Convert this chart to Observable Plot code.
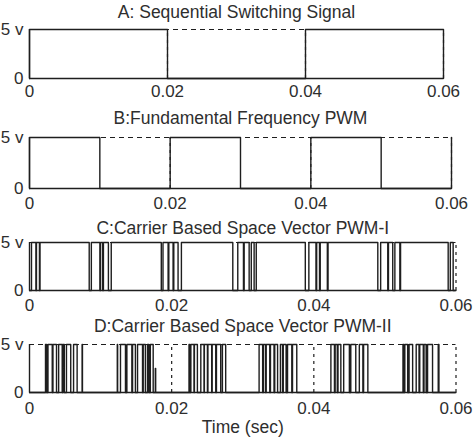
<!DOCTYPE html>
<html><head><meta charset="utf-8">
<script src="https://cdn.jsdelivr.net/npm/d3@7"></script>
<script src="https://cdn.jsdelivr.net/npm/@observablehq/plot@0.6"></script>
<style>
body{margin:0;background:#fff;}
#wrap{position:relative;width:474px;height:441px;overflow:hidden;background:#fff;}
#wrap svg{position:absolute;left:0;}
</style></head><body><div id="wrap"></div>
<script>
// ---- text / ticks ----
const xTicks = [0, 0.02, 0.04, 0.06];
const yTicks = [0, 5];
const yTickLabels = ["0", "5 v"];
const titles = [
  "A: Sequential Switching Signal",
  "B:Fundamental Frequency PWM",
  "C:Carrier Based Space Vector PWM-I",
  "D:Carrier Based Space Vector PWM-II"
];
const xLabel = "Time (sec)";

// ---- A: sequential switching (high intervals, s) ----
const aHighStart = [0, 0.04];
const aHighEnd   = [0.02, 0.06];

// ---- B: fundamental frequency PWM ----
const bHighStart = [0, 0.02, 0.04, 0.06];
const bHighEnd   = [0.01, 0.03, 0.05, 0.06];

// ---- C: carrier based SVPWM-I (signal high, low notches) ----
const cLowStart = [0, 0.0009, 0.0014, 0.0084, 0.0099, 0.0103, 0.0111, 0.01854, 0.0195, 0.0202, 0.0209,
  0.0286, 0.0301, 0.0309, 0.0316, 0.0388, 0.0403, 0.0408, 0.0419, 0.0490, 0.0504, 0.0511, 0.0521, 0.0589, 0.0596];
const cLowEnd   = [0.00028, 0.00098, 0.00148, 0.0087, 0.0100, 0.0104, 0.0115, 0.01878, 0.0196, 0.0203, 0.02137,
  0.0293, 0.0302, 0.0312, 0.0319, 0.0393, 0.0404, 0.0409, 0.0420, 0.0494, 0.0505, 0.0514, 0.0522, 0.0592, 0.06];

// ---- D: carrier based SVPWM-II (high pulses) ----
const dHighStart = [
  0.00225, 0.0026, 0.0033, 0.0041, 0.0047, 0.0052, 0.0062, 0.0074,
  0.01235, 0.0128, 0.0137, 0.0145, 0.0152, 0.0160, 0.0166, 0.0170, 0.0177,
  0.02244, 0.0227, 0.0232, 0.0241, 0.0246, 0.0251, 0.0257, 0.0263, 0.02714,
  0.0323, 0.0329, 0.0333, 0.0339, 0.0345, 0.0353, 0.0357, 0.0363, 0.0370,
  0.0424, 0.0430, 0.0434, 0.0442, 0.0452, 0.0464, 0.0470,
  0.05254, 0.0528, 0.0534, 0.0544, 0.0549, 0.0555, 0.0560, 0.0575];
const dHighEnd = [
  0.0024, 0.0032, 0.0038, 0.0046, 0.0049, 0.0058, 0.0067, 0.00745,
  0.0124, 0.0135, 0.0144, 0.0149, 0.0159, 0.0163, 0.0168, 0.0174, 0.01775,
  0.02255, 0.02314, 0.02362, 0.02455, 0.02503, 0.02563, 0.0262, 0.0269, 0.0276,
  0.0328, 0.0332, 0.0338, 0.0344, 0.0349, 0.0356, 0.0361, 0.0369, 0.0376,
  0.0429, 0.0433, 0.0438, 0.0450, 0.0459, 0.0469, 0.0476,
  0.05265, 0.0532, 0.0539, 0.0548, 0.0554, 0.0558, 0.0567, 0.0576];
const dHighLevel = [
  5, 5, 5, 5, 5, 5, 5, 5,
  5, 5, 5, 5, 5, 5, 5, 5, 2.5,
  5, 5, 5, 5, 5, 5, 5, 5, 5,
  5, 5, 5, 5, 5, 5, 5, 5, 5,
  5, 5, 5, 5, 5, 5, 5,
  5, 5, 5, 5, 5, 5, 5, 5];

// ---- build waveforms ----
function wave(starts, ends, levels) {
  const pts = [{t: 0, v: 0}];
  starts.forEach((s, i) => {
    const lv = levels ? levels[i] : 5;
    pts.push({t: s, v: 0}, {t: s, v: lv}, {t: ends[i], v: lv}, {t: ends[i], v: 0});
  });
  pts.push({t: 0.06, v: 0});
  return pts;
}
const cStarts = [], cEnds = [];
[0, ...cLowEnd].forEach((s, i) => {
  const e = i < cLowStart.length ? cLowStart[i] : 0.06;
  if (e > s) { cStarts.push(s); cEnds.push(e); }
});

const FONT = '"Liberation Sans", Arial, Helvetica, sans-serif';
const INK = "#1e1e1e";
const TXT = "#2e2e2e";

function panel({top, height, mt, mb, mr, title, pts, titleDy, tickPad, grid, xlabel}) {
  const marks = [
    Plot.ruleY([5], {stroke: INK, strokeWidth: 1.2, strokeDasharray: "5,4"}),
    Plot.ruleX(grid, {y1: 0, y2: 5, stroke: INK, strokeWidth: 1.2, strokeDasharray: "3,4"}),
    Plot.ruleY([0], {stroke: INK, strokeWidth: 1.4}),
    Plot.ruleX([0], {y1: 0, y2: 5, stroke: INK, strokeWidth: 1.4}),
    Plot.line(pts, {x: "t", y: "v", stroke: INK, strokeWidth: 1.4}),
    Plot.axisX(xTicks, {tickSize: 0, tickPadding: tickPad, fontSize: 17, fill: TXT, label: null,
      tickFormat: d => d === 0 ? "0" : String(d)}),
    Plot.axisY(yTicks, {tickSize: 0, tickPadding: 6, fontSize: 17, fill: TXT, label: null,
      tickFormat: d => yTickLabels[yTicks.indexOf(d)]}),
    Plot.text([title], {frameAnchor: "top", dy: titleDy, fontSize: 17.5, fill: TXT})
  ];
  if (xlabel) marks.push(Plot.text([xlabel], {frameAnchor: "bottom", dy: 40, fontSize: 17.5, fill: TXT}));
  const svg = Plot.plot({
    width: 474, height,
    marginTop: mt, marginBottom: mb, marginLeft: 29, marginRight: mr,
    style: {fontFamily: FONT, background: "transparent", overflow: "visible"},
    x: {domain: [0, 0.06], label: null},
    y: {domain: [0, 5], label: null},
    marks
  });
  svg.style.top = top + "px";
  document.getElementById("wrap").appendChild(svg);
}

panel({top: 0,   height: 100, mt: 29, mb: 22, mr: 31,   title: titles[0], titleDy: -24, tickPad: 6,
  grid: [0.02, 0.04, 0.06], pts: wave(aHighStart, aHighEnd)});
panel({top: 100, height: 110, mt: 37, mb: 22, mr: 23,   title: titles[1], titleDy: -26, tickPad: 8,
  grid: [0.02, 0.04, 0.06], pts: wave(bHighStart, bHighEnd)});
panel({top: 210, height: 110, mt: 32, mb: 30, mr: 18.5, title: titles[2], titleDy: -21, tickPad: 8,
  grid: [0.06], pts: wave(cStarts, cEnds)});
panel({top: 320, height: 121, mt: 24, mb: 49, mr: 18.5, title: titles[3], titleDy: -25, tickPad: 9,
  grid: [0.02, 0.04, 0.06], pts: wave(dHighStart, dHighEnd, dHighLevel), xlabel: xLabel});
</script></body></html>
